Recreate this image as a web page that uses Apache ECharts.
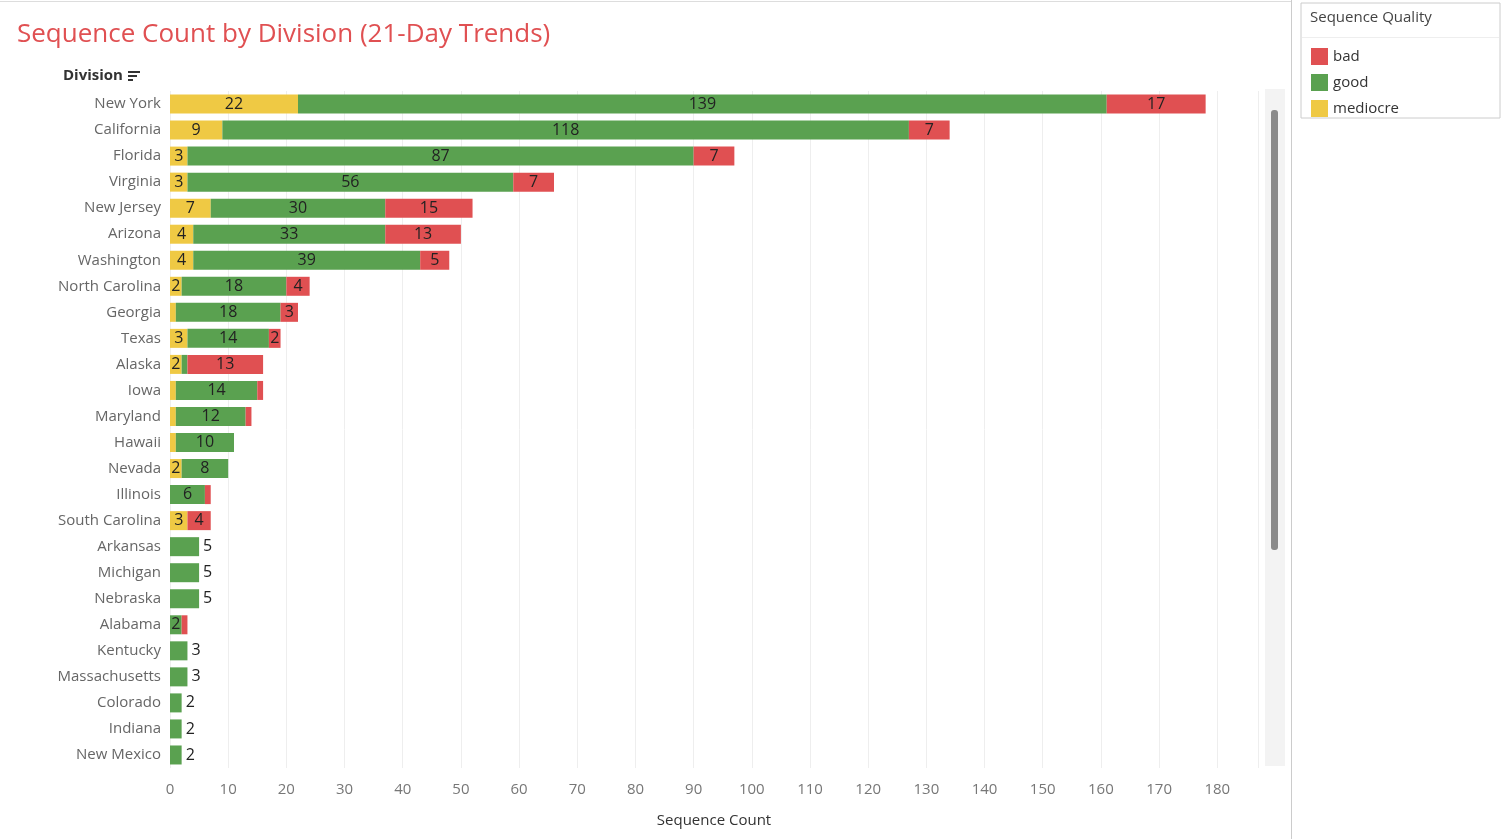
<!DOCTYPE html>
<html>
<head>
<meta charset="utf-8">
<script src="https://cdn.jsdelivr.net/npm/echarts@6/dist/echarts.min.js"></script>
<style>
html,body{margin:0;padding:0;background:#fff;}
#main{width:1509px;height:839px;}
</style>
</head>
<body>
<div id="main"></div>
<script>
const divisions = ['New York', 'California', 'Florida', 'Virginia', 'New Jersey', 'Arizona', 'Washington',
	'North Carolina', 'Georgia', 'Texas', 'Alaska', 'Iowa', 'Maryland', 'Hawaii', 'Nevada', 'Illinois',
	'South Carolina', 'Arkansas', 'Michigan', 'Nebraska', 'Alabama', 'Kentucky', 'Massachusetts',
	'Colorado', 'Indiana', 'New Mexico'];
const mediocre = [22, 9, 3, 3, 7, 4, 4, 2, 1, 3, 2, 1, 1, 1, 2, 0, 3, 0, 0, 0, 0, 0, 0, 0, 0, 0];
const good = [139, 118, 87, 56, 30, 33, 39, 18, 18, 14, 1, 14, 12, 10, 8, 6, 0, 5, 5, 5, 2, 3, 3, 2, 2, 2];
const bad = [17, 7, 7, 7, 15, 13, 5, 4, 3, 2, 13, 1, 1, 0, 0, 1, 4, 0, 0, 0, 1, 0, 0, 0, 0, 0];

const myChart = echarts.init(document.getElementById('main'));
const font = 'Open Sans';

function items(arr, outsideIfAlone) {
	return arr.map(function (v, i) {
		if (!v) return null;
		const alone = mediocre[i] + good[i] + bad[i] === v;
		const d = { value: v, label: { show: v >= 2 } };
		if (outsideIfAlone && alone && v <= 5) {
			d.label.position = 'right';
			d.label.distance = 4;
		}
		return d;
	});
}

function makeSeries(name, arr, color, outside) {
	return {
		name: name,
		type: 'bar',
		stack: 'total',
		barWidth: 19,
		data: items(arr, outside),
		itemStyle: { color: color },
		label: { position: 'inside', color: '#222', fontSize: 16, fontFamily: font },
		emphasis: { disabled: true }
	};
}

option = {
	animation: false,
	textStyle: { fontFamily: font },
	title: {
		text: 'Sequence Count by Division (21-Day Trends)',
		left: 12, top: 17,
		textStyle: { color: '#e05052', fontSize: 26, fontWeight: 'normal', fontFamily: font }
	},
	legend: {
		data: ['bad', 'good', 'mediocre'],
		orient: 'vertical',
		left: 1306, top: 43,
		itemWidth: 17, itemHeight: 17, itemGap: 9,
		icon: 'rect',
		selectedMode: false,
		textStyle: { fontSize: 15, color: '#333', fontFamily: font }
	},
	grid: { left: 170, right: 251, top: 91, bottom: 71 },
	xAxis: {
		type: 'value', min: 0, max: 187, interval: 10,
		name: 'Sequence Count', nameLocation: 'middle', nameGap: 45,
		nameTextStyle: { fontSize: 15, color: '#333', fontFamily: font },
		axisLabel: { color: '#777', fontSize: 15, margin: 14, showMaxLabel: false, fontFamily: font },
		splitLine: { lineStyle: { color: '#eeeeee' } },
		axisLine: { show: false }, axisTick: { show: false }
	},
	yAxis: {
		type: 'category', data: divisions, inverse: true,
		axisLabel: { color: '#666', fontSize: 15, margin: 9, fontFamily: font },
		axisLine: { show: false }, axisTick: { show: false }
	},
	graphic: [
		{ type: 'rect', shape: { x: 1291, y: 0, width: 1, height: 839 }, style: { fill: '#ccc' } },
		{ type: 'rect', shape: { x: 0, y: 1, width: 1291, height: 1 }, style: { fill: '#ddd' } },
		{ type: 'rect', shape: { x: 1301, y: 3, width: 199, height: 115 }, style: { fill: 'none', stroke: '#ccc', lineWidth: 1 } },
		{ type: 'rect', shape: { x: 1302, y: 37, width: 197, height: 1 }, style: { fill: '#eee' } },
		{ type: 'text', left: 1310, top: 10, style: { text: 'Sequence Quality', fontSize: 15, fill: '#444', fontFamily: font } },
		{ type: 'text', left: 63, top: 68, style: { text: 'Division', fontSize: 15, fontWeight: 'bold', fill: '#333', fontFamily: font } },
		{ type: 'rect', shape: { x: 1265, y: 89, width: 20, height: 677 }, style: { fill: '#f3f3f3' } },
		{ type: 'rect', shape: { x: 1271, y: 110, width: 7, height: 440, r: 3 }, style: { fill: '#8a8a8a' } },
		{ type: 'rect', shape: { x: 128, y: 71, width: 12, height: 2 }, style: { fill: '#333' } },
		{ type: 'rect', shape: { x: 128, y: 75, width: 9, height: 2 }, style: { fill: '#333' } },
		{ type: 'rect', shape: { x: 128, y: 79, width: 5, height: 2 }, style: { fill: '#333' } }
	],
	series: [
		makeSeries('mediocre', mediocre, '#efc944', false),
		makeSeries('good', good, '#5aa150', true),
		makeSeries('bad', bad, '#e05052', false)
	]
};

myChart.setOption(option);
</script>
</body>
</html>
